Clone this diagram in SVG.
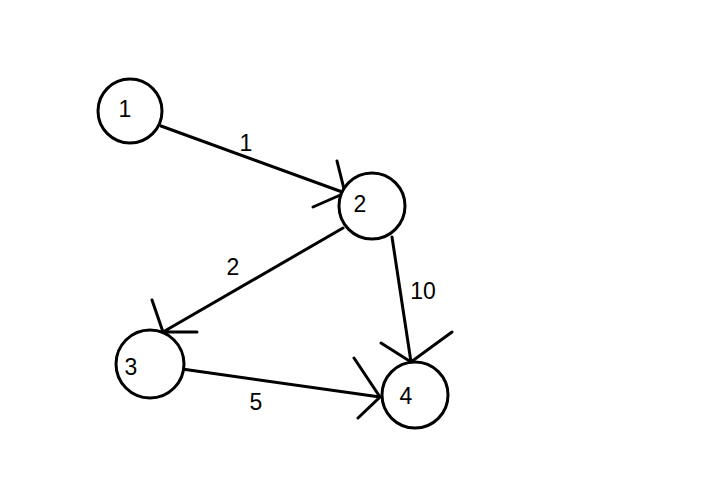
<svg xmlns="http://www.w3.org/2000/svg" width="716" height="491" viewBox="0 0 716 491">
<style>
.n{fill:#fff;stroke:#000;stroke-width:3}
.e{fill:none;stroke:#000;stroke-width:3;stroke-linecap:round}
text{font-family:"Liberation Sans",Arial,sans-serif;font-size:23px;fill:#000;text-anchor:middle;dominant-baseline:central}
</style>
<rect width="716" height="491" fill="#fff"/>
<g id="edges">
<path class="e" d="M161,126 L345,193 M337,161 L345,193 L313,207"/>
<path class="e" d="M343,228 L163,332 M152,300 L163,332 L197,332"/>
<path class="e" d="M392,237 L411,362 M381,343 L411,362 L452,332"/>
<path class="e" d="M182,369 L380,397 M354,358 L380,397 L358,418"/>
<text x="246" y="143">1</text>
<text x="233" y="267">2</text>
<text x="423" y="291">10</text>
<text x="256" y="402">5</text>
</g>
<g id="node1"><circle class="n" cx="130" cy="111" r="32"/><text x="125" y="109">1</text></g>
<g id="node2"><circle class="n" cx="372" cy="206" r="33"/><text x="360" y="204">2</text></g>
<g id="node3"><circle class="n" cx="150" cy="364" r="34"/><text x="131" y="367">3</text></g>
<g id="node4"><circle class="n" cx="415" cy="395" r="33"/><text x="406" y="396">4</text></g>
</svg>
